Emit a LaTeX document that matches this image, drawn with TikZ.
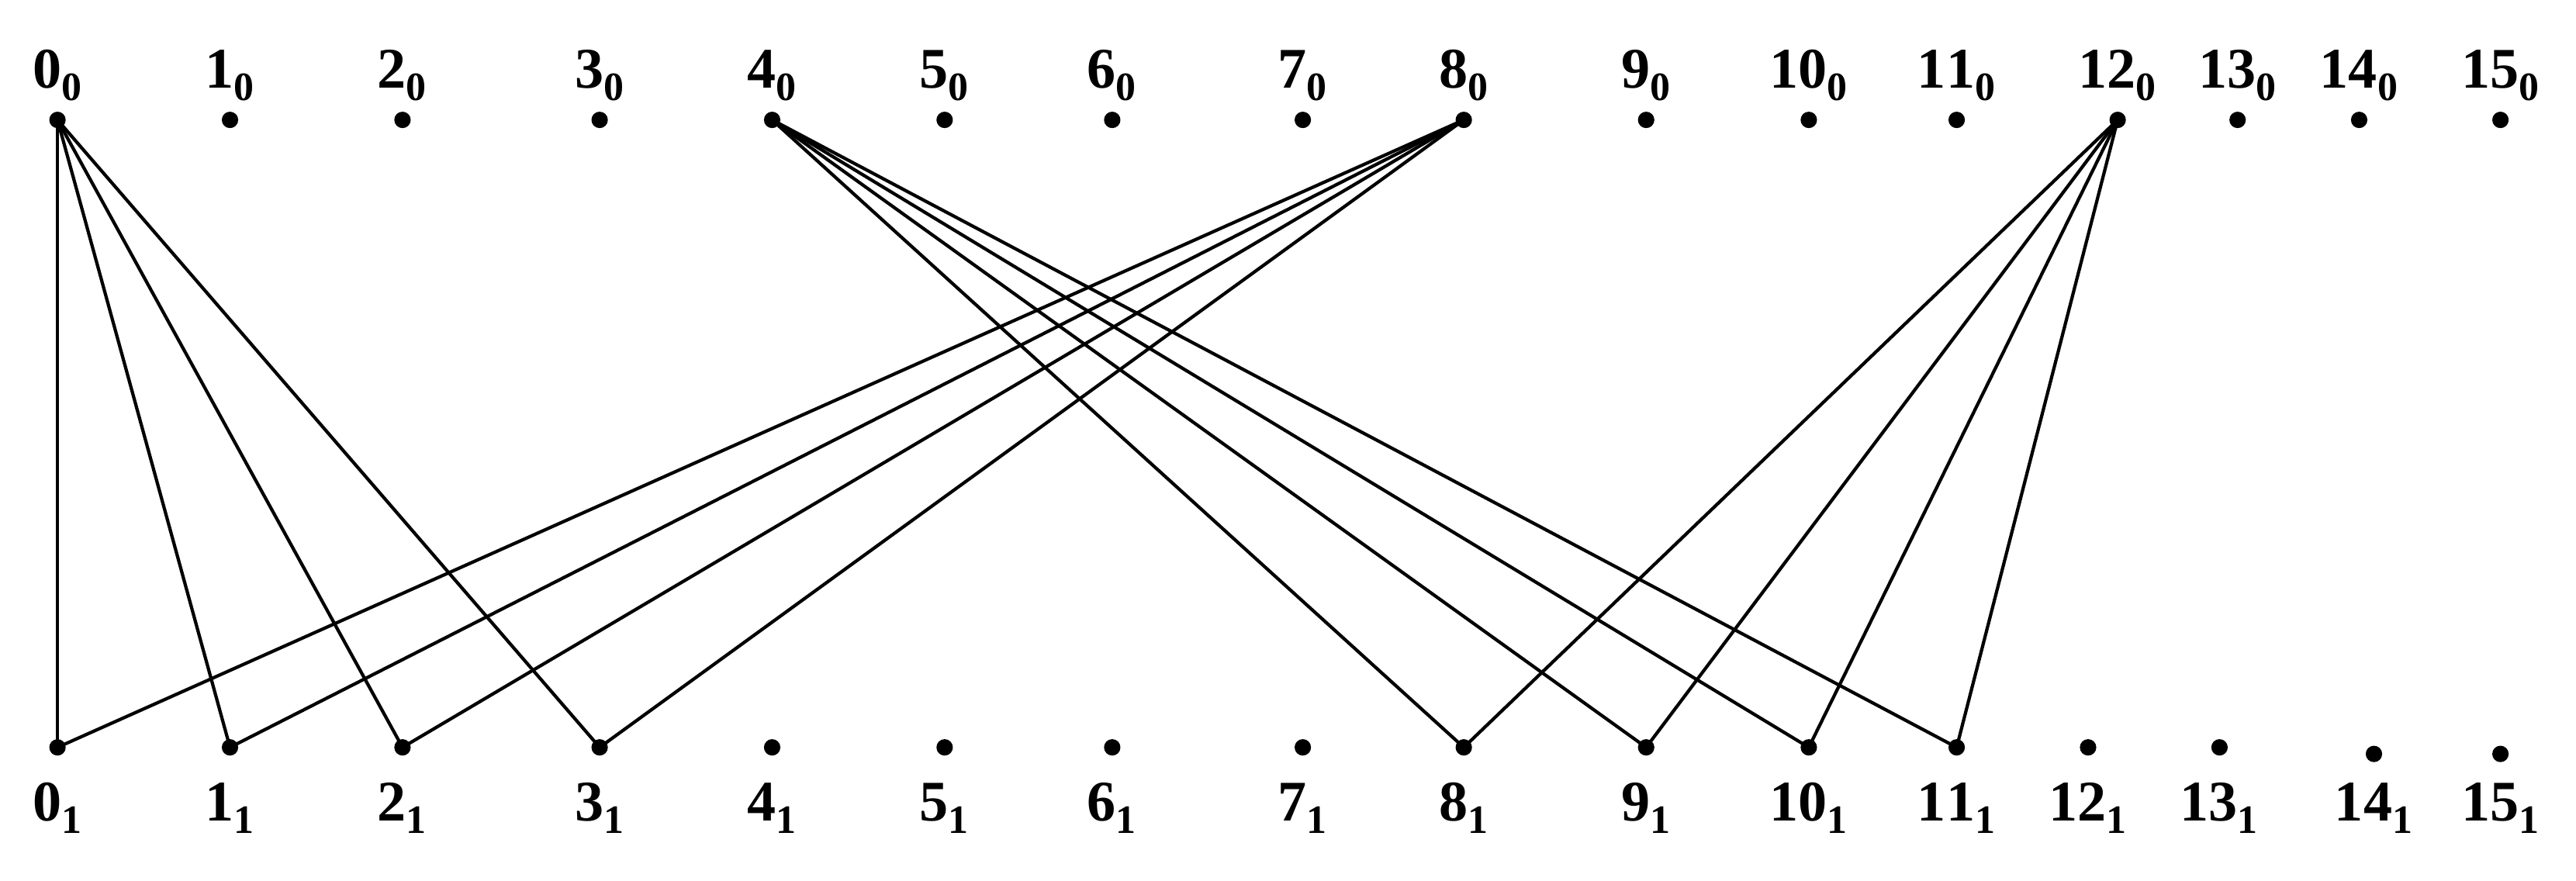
\documentclass[tikz,border=0pt]{standalone}
\usepackage{fontspec}
\setmainfont{Liberation Serif}
\begin{document}
\begin{tikzpicture}[x=1pt,y=1pt,
  dot/.style={circle,fill=black,inner sep=0pt,minimum size=10pt},
  lab/.style={font=\fontsize{35}{38}\selectfont\bfseries,inner sep=0pt},
  edge/.style={line width=2pt}]
\useasboundingbox (0,0) rectangle (1568,536);
\foreach \i/\x in {0/35,1/140,2/245,3/365,4/470,5/575,6/677,7/793,8/891,9/1002,10/1101,11/1191,12/1289,13/1362,14/1436,15/1522}{
  \node[dot] (t\i) at (\x,463) {};
  \node[lab] (tl\i) at (\x,490) {$\mathbf{\i_0}$};
}
\foreach \i/\x/\y in {0/35/81,1/140/81,2/245/81,3/365/81,4/470/81,5/575/81,6/677/81,7/793/81,8/891/81,9/1002/81,10/1101/81,11/1191/81,12/1271/81,13/1351/81,14/1445/77,15/1522/77}{
  \node[dot] (b\i) at (\x,\y) {};
  \node[lab] (bl\i) at (\x,44) {$\mathbf{\i_1}$};
}
\foreach \s in {0,8}{\foreach \d in {0,1,2,3}{\draw[edge] (t\s.center) -- (b\d.center);}}
\foreach \s in {4,12}{\foreach \d in {8,9,10,11}{\draw[edge] (t\s.center) -- (b\d.center);}}
\end{tikzpicture}
\end{document}
